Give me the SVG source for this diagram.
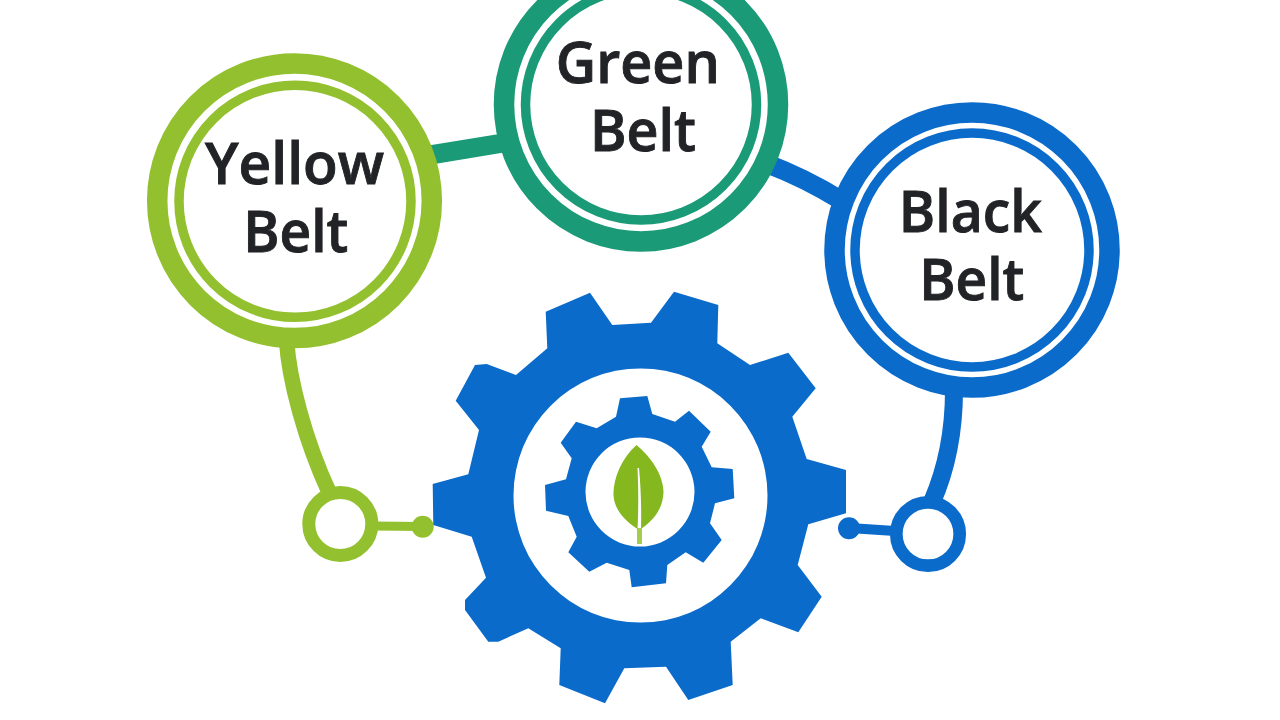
<svg xmlns="http://www.w3.org/2000/svg" width="1280" height="720" viewBox="0 0 1280 720">
<style>
.t{font-family:"Open Sans","Noto Sans","Liberation Sans",sans-serif;font-weight:600;font-size:57px;fill:#222326;stroke:#222326;stroke-width:.9;text-anchor:middle}
.lime{stroke:#93c02e}.teal{stroke:#1b9a78}.blue{stroke:#0b6bcb}
.o{fill:#fff;stroke-width:20.5}.i{fill:#fff;stroke-width:9.5}
.c{fill:none;stroke-linecap:butt}
</style>
<rect width="1280" height="720" fill="#fff"/>
<g id="connectors">
<path class="c teal" d="M430 155L510 142" stroke-width="19"/>
<path class="c blue" d="M765 163Q805 178 842 201" stroke-width="19"/>
<path class="c lime" d="M286.5 340C289 380 305 440 329 492" stroke-width="15.5"/>
<path class="c blue" d="M954 390C954 430 946 470 932 502" stroke-width="18"/>
<path class="c lime" d="M372 526L423 526.5" stroke-width="9"/>
<path class="c blue" d="M849 528L895 531" stroke-width="10"/>
<circle cx="422.7" cy="526.7" r="11" fill="#93c02e"/>
<circle cx="849" cy="528.3" r="11" fill="#0b6bcb"/>
</g>
<g id="yellow-belt">
<circle class="o lime" cx="294.5" cy="200.8" r="137.3"/>
<circle class="i lime" cx="295" cy="201.3" r="116"/>
<text class="t" x="294.5" y="184" textLength="179" lengthAdjust="spacingAndGlyphs">Yellow</text>
<text class="t" x="295.8" y="252" textLength="105" lengthAdjust="spacingAndGlyphs">Belt</text>
</g>
<g id="green-belt">
<circle class="o teal" cx="641" cy="104.5" r="137"/>
<circle class="i teal" cx="641" cy="104.5" r="115.5"/>
<text class="t" x="637.8" y="83.3" textLength="164" lengthAdjust="spacingAndGlyphs">Green</text>
<text class="t" x="643" y="151" textLength="106" lengthAdjust="spacingAndGlyphs">Belt</text>
</g>
<g id="black-belt">
<circle class="o blue" cx="972" cy="250" r="137.5"/>
<circle class="i blue" cx="972" cy="250" r="117"/>
<text class="t" x="970.3" y="232.3" textLength="143" lengthAdjust="spacingAndGlyphs">Black</text>
<text class="t" x="971.8" y="300" textLength="105" lengthAdjust="spacingAndGlyphs">Belt</text>
</g>
<g id="yellow-node"><circle cx="340.3" cy="524" r="31.5" fill="#fff" stroke="#93c02e" stroke-width="13"/></g>
<g id="black-node"><circle cx="928" cy="534" r="31.7" fill="#fff" stroke="#0b6bcb" stroke-width="12.7"/></g>
<g id="gear">
<path fill="#0b6bcb" fill-rule="evenodd" d="M545.7 311.7L590 292.7L612.3 325L651 322.7L674 291.7L718.3 305L717.3 343.3L750 365L788.3 352.7L815.7 388.3L792.3 416.7L806.7 459L846 470L846 513.3L808.3 524.3L797.7 565L821.7 596.7L798.3 632.3L760.7 618.3L730.7 641.7L732.7 685L688.3 700L666 666.7L624.3 668.3L605 703.3L559.3 685L560.7 648.3L528.3 628.3L498.3 641.7L488.3 641.7L465 610L465 600L486 577.7L471.7 536.7L433.3 525L432.7 484L468.3 474.3L479 430L455.7 400.7L475 365L486.7 364L516 375L547.3 348.3ZM513.5 495.5A127 127 0 1 0 767.5 495.5A127 127 0 1 0 513.5 495.5Z"/>
<path fill="#0b6bcb" fill-rule="evenodd" d="M620 398.3L647.3 396L652.3 414L675 421.7L689 410.7L710.7 431.7L701.7 446.7L711.7 467.3L732.7 469L734.3 498.3L715 503.3L710 523.3L721.7 540L703.3 562.7L685.7 552.3L667.3 565L666 583.3L631.7 587.3L629.3 570L606.7 562.7L589.3 571.7L568.3 552.3L576.7 536.7L568.3 516L546 510.7L545 485L566 479.3L571.7 458.3L560.7 442.7L576 421.7L596.7 428.3L616 416.7ZM585.5 492A54.5 54.5 0 1 0 694.5 492A54.5 54.5 0 1 0 585.5 492Z"/>
<path fill="#85b81f" d="M636.5 445C622 458 613 478 613.5 495C614 510 626 522 639 530C652 522 663 510 663.5 492C663 474 650 456 636.5 445Z"/>
<path fill="#fff" d="M637.5 468L639 468C641 490 641.5 510 641 530L637.5 530C638.5 510 638.5 490 637.5 468Z"/>
<rect x="637" y="528" width="5" height="16" fill="#a5cc4d"/>
</g>
</svg>
